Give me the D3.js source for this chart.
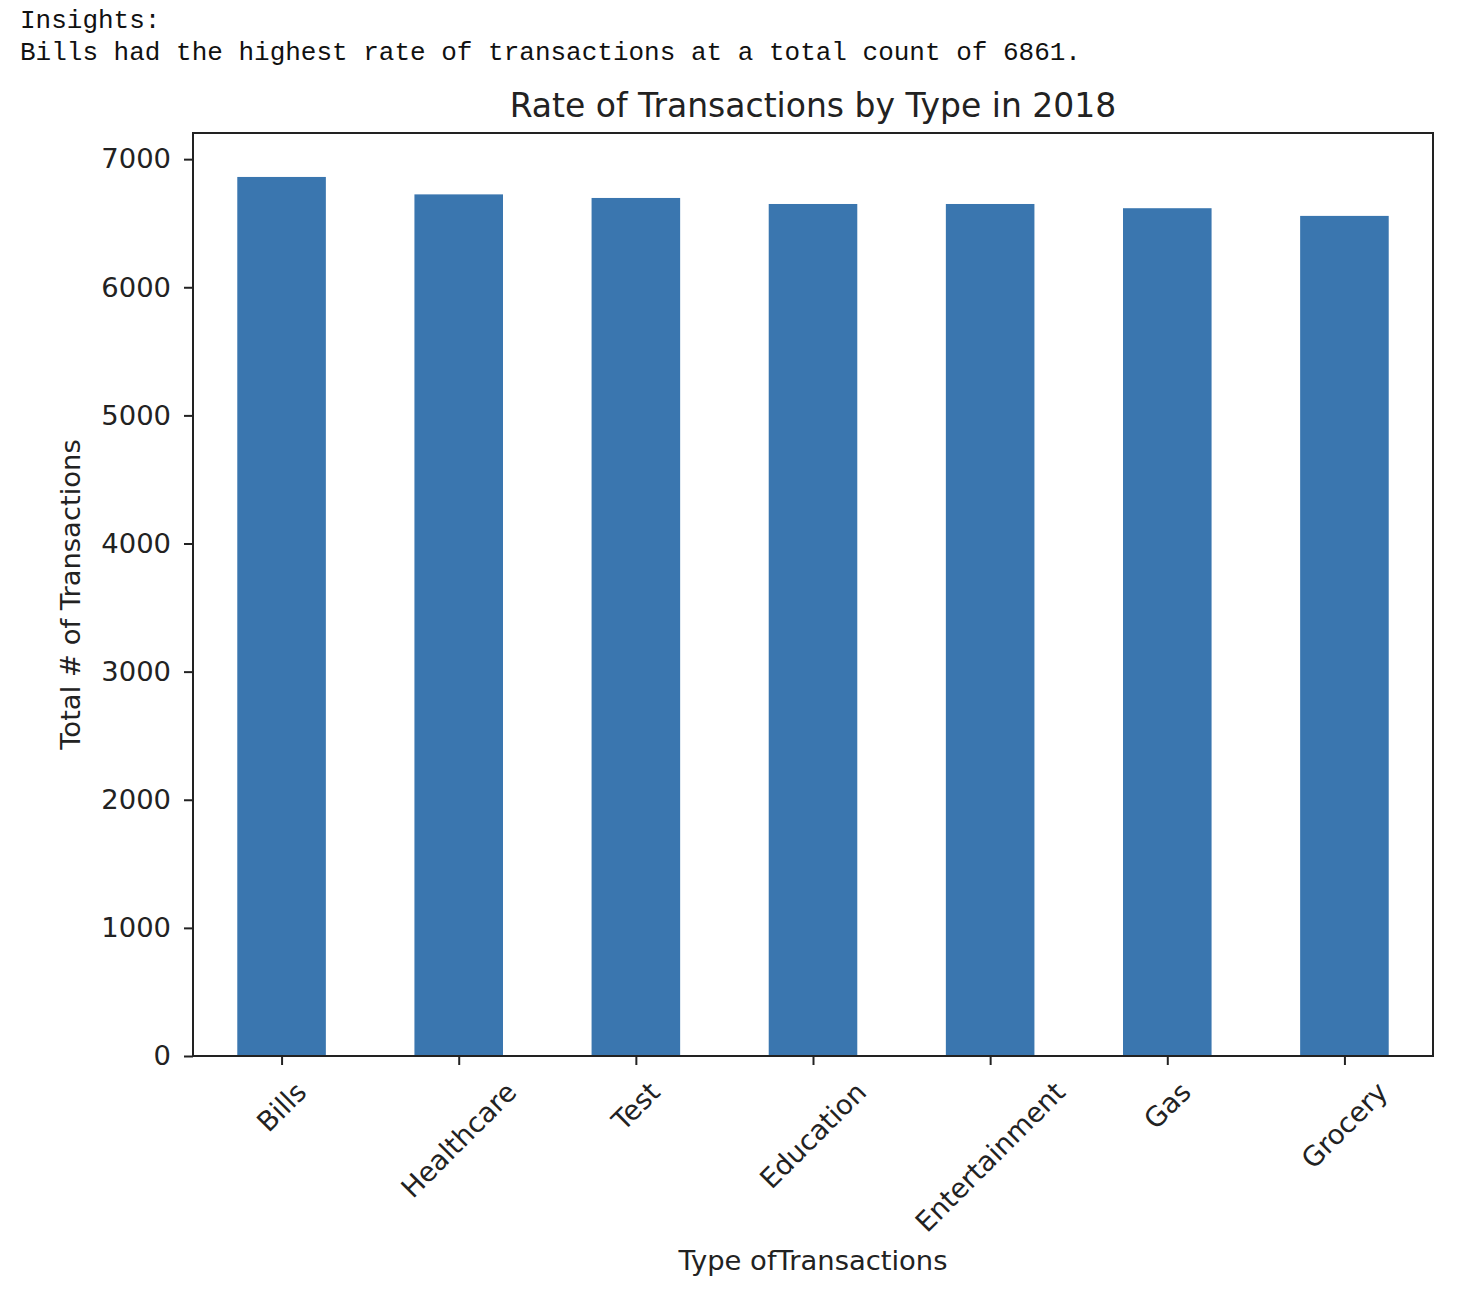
<!DOCTYPE html>
<html>
<head>
<meta charset="utf-8">
<script src="https://cdn.jsdelivr.net/npm/d3@7"></script>
<style>
  body { margin: 0; background: #fff; }
  svg { display: block; }
</style>
</head>
<body>
<div id="chart"></div>
<script>
const categories = ["Bills", "Healthcare", "Test", "Education", "Entertainment", "Gas", "Grocery"];
const counts = [6861, 6725, 6697, 6650, 6650, 6617, 6557];
const yTicks = [0, 1000, 2000, 3000, 4000, 5000, 6000, 7000];
const insightLines = ["Insights:", "Bills had the highest rate of transactions at a total count of 6861."];

const width = 1484, height = 1290;
const margin = {top: 133, right: 51, bottom: 234, left: 193};
const plotW = width - margin.left - margin.right;
const plotH = height - margin.top - margin.bottom;
const tickFont = 27.4;
const ink = "#222";

const svg = d3.select("#chart").append("svg")
    .attr("width", width)
    .attr("height", height)
    .style("font-family", "'DejaVu Sans', sans-serif");

// notebook print output above the figure
svg.append("g")
    .selectAll("text")
    .data(insightLines)
    .enter()
    .append("text")
    .attr("x", 20)
    .attr("y", (d, i) => 28 + i * 32)
    .attr("font-family", "'Liberation Mono', 'DejaVu Sans Mono', monospace")
    .attr("font-size", 26)
    .attr("fill", "#111")
    .attr("xml:space", "preserve")
    .text(d => d);

const g = svg.append("g")
    .attr("transform", "translate(" + margin.left + "," + margin.top + ")");

// pandas puts bars at 0..n-1 with xlim (-0.5, n-0.5)
const x = d3.scaleLinear()
    .domain([-0.5, categories.length - 0.5])
    .range([0, plotW]);
const y = d3.scaleLinear()
    .domain([0, d3.max(counts) * 1.05])
    .range([plotH, 0]);

const barW = x(0.5) - x(0);

g.selectAll(".bar")
    .data(counts)
    .enter()
    .append("rect")
    .attr("class", "bar")
    .attr("x", (d, i) => x(i) - barW / 2)
    .attr("width", barW)
    .attr("y", d => y(d))
    .attr("height", d => y(0) - y(d))
    .attr("fill", "#3a76af");

// y axis
const yAxis = g.append("g")
    .call(d3.axisLeft(y).tickValues(yTicks).tickSize(9).tickPadding(13).tickFormat(d3.format("d")));
yAxis.select(".domain").remove();
yAxis.selectAll("line").attr("stroke", ink).attr("stroke-width", 2);
yAxis.selectAll("text")
    .attr("font-size", tickFont)
    .attr("font-family", "'DejaVu Sans', sans-serif")
    .attr("fill", ink);

// x axis ticks
const xAxis = g.append("g")
    .attr("transform", "translate(0," + plotH + ")")
    .call(d3.axisBottom(x).tickValues(d3.range(categories.length)).tickSize(9).tickFormat(""));
xAxis.select(".domain").remove();
xAxis.selectAll("line").attr("stroke", ink).attr("stroke-width", 2);

// rotated labels: bounding box centred under the tick, like matplotlib rotation=45
const labelTop = plotH + 9 + 12;
const labels = g.append("g")
    .selectAll("text")
    .data(categories)
    .enter()
    .append("text")
    .attr("font-size", tickFont)
    .attr("fill", ink)
    .attr("text-anchor", "middle")
    .attr("dominant-baseline", "central")
    .text(d => d);
labels.each(function(d, i){
    const w = this.getComputedTextLength();
    const h = tickFont * 1.05;
    const cx = x(i);
    const cy = labelTop + (w + h) / (2 * Math.SQRT2);
    d3.select(this).attr("transform", "translate(" + cx + "," + cy + ") rotate(-45)");
});

// frame
g.append("rect")
    .attr("width", plotW)
    .attr("height", plotH)
    .attr("fill", "none")
    .attr("stroke", ink)
    .attr("stroke-width", 2);

// titles
g.append("text")
    .attr("x", plotW / 2)
    .attr("y", -16)
    .attr("text-anchor", "middle")
    .attr("font-size", 33)
    .attr("fill", ink)
    .text("Rate of Transactions by Type in 2018");

g.append("text")
    .attr("x", plotW / 2)
    .attr("y", plotH + 214)
    .attr("text-anchor", "middle")
    .attr("font-size", tickFont)
    .attr("fill", ink)
    .text("Type ofTransactions");

g.append("text")
    .attr("transform", "translate(-113," + (plotH / 2) + ") rotate(-90)")
    .attr("text-anchor", "middle")
    .attr("font-size", tickFont)
    .attr("fill", ink)
    .text("Total # of Transactions");
</script>
</body>
</html>
